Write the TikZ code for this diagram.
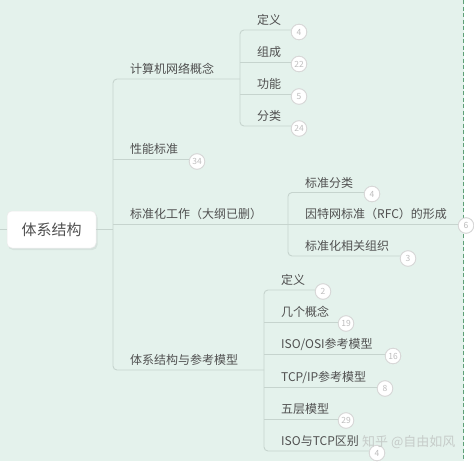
\documentclass[tikz,border=0pt]{standalone}
\usepackage{fontspec}
\setmainfont{Noto Sans CJK SC}
\usetikzlibrary{calc}
\definecolor{bgc}{RGB}{228,242,236}
\definecolor{linec}{RGB}{198,212,206}
\definecolor{txtc}{RGB}{80,80,80}
\definecolor{dashc}{RGB}{95,160,120}
\definecolor{bdgline}{RGB}{215,215,215}
\definecolor{bdgtxt}{RGB}{190,190,190}
\definecolor{wmc}{RGB}{198,204,201}
\begin{document}
\begin{tikzpicture}[x=1pt,y=-1pt,
  lbl/.style={anchor=base west, inner sep=0pt, text=txtc, font=\fontsize{12}{14}\selectfont},
  badge/.style={circle, draw=bdgline, fill=white, line width=0.8pt, minimum size=15.5pt, inner sep=0pt, text=bdgtxt, font=\fontsize{8.5}{9}\selectfont},
  conn/.style={draw=linec, line width=0.9pt, rounded corners=4pt},
  rootbox/.style={draw=white!92!black, line width=0.5pt, fill=white, rounded corners=5pt, minimum width=89pt, minimum height=37pt, inner sep=0pt, text=txtc, font=\fontsize{15}{17}\selectfont}]
\useasboundingbox (0,0) rectangle (474,461);
\fill[bgc] (0,0) rectangle (464,461);
\fill[white] (464,0) rectangle (474,461);
\draw[dashc, line width=1.3pt, dash pattern=on 4pt off 2.5pt] (463.5,0) -- (463.5,461);

% root
\fill[black, opacity=0.06, rounded corners=5pt] (8,212.5) rectangle (97.5,250);
\node[rootbox] (root) at (51.5,229.5) {体系结构};
\coordinate (in) at (0,229.5);
\coordinate (j) at (113,229.5);

% level 1 labels
\node[lbl] (a) at (130,73) {计算机网络概念};
\node[lbl] (b) at (130,153.5) {性能标准};
\node[lbl] (c) at (130,218) {标准化工作（大纲已删）};
\node[lbl] (d) at (130,364) {体系结构与参考模型};

\coordinate (aL) at (113,79);  \coordinate (aR) at (240,79);
\coordinate (bL) at (113,159.5);
\coordinate (cL) at (113,224); \coordinate (cR) at (288,224);
\coordinate (dL) at (113,370); \coordinate (dR) at (264,370);

% level 2 labels (a)
\node[lbl] (a1) at (257,24) {定义};
\node[lbl] (a2) at (257,56) {组成};
\node[lbl] (a3) at (257,88) {功能};
\node[lbl] (a4) at (257,120) {分类};
\coordinate (a1u) at (240,30);
\coordinate (a2u) at (240,62);
\coordinate (a3u) at (240,94);
\coordinate (a4u) at (240,126);

% level 2 labels (c)
\node[lbl] (c1) at (305,187) {标准分类};
\node[lbl] (c2) at (305,218) {因特网标准（RFC）的形成};
\node[lbl] (c3) at (305,250) {标准化相关组织};
\coordinate (c1u) at (288,192.5);
\coordinate (c2u) at (288,224);
\coordinate (c3u) at (288,256);

% level 2 labels (d)
\node[lbl] (d1) at (281,284) {定义};
\node[lbl] (d2) at (281,316) {几个概念};
\node[lbl] (d3) at (281,348) {ISO/OSI参考模型};
\node[lbl] (d4) at (281,381) {TCP/IP参考模型};
\node[lbl] (d5) at (281,413) {五层模型};
\node[lbl] (d6) at (281,445) {ISO与TCP区别};
\coordinate (d1u) at (264,290);
\coordinate (d2u) at (264,322);
\coordinate (d3u) at (264,354);
\coordinate (d4u) at (264,387);
\coordinate (d5u) at (264,419);
\coordinate (d6u) at (264,451);

% badges (positions)
\path
  (197,161.5) node[badge] (bb) {34}
  (299,32) node[badge] (ba1) {4}
  (299,64) node[badge] (ba2) {22}
  (299,96.5) node[badge] (ba3) {5}
  (299,128.5) node[badge] (ba4) {24}
  (372,194) node[badge] (bc1) {4}
  (466,225.5) node[badge] (bc2) {6}
  (408,258.5) node[badge] (bc3) {3}
  (323,291.5) node[badge] (bd1) {2}
  (346,323.5) node[badge] (bd2) {19}
  (393,356) node[badge] (bd3) {16}
  (385,388.5) node[badge] (bd4) {8}
  (346,420.5) node[badge] (bd5) {29}
  (377,453) node[badge] (bd6) {4};

% connectors (behind badges)
\begin{scope}[on background layer/.style={}]
\end{scope}
\draw[conn] (in) -- (root.west);
\draw[conn] (root.east) -- (j);
\draw[conn] (aR) -- (aL) -- (dL) -- (dR);
\draw[conn] (bL) -- (bb.west |- bL);
\draw[conn] (cL) -- (cR);
% a subtree
\draw[conn] (ba1.west |- a1u) -- (a1u) -- (a4u) -- (ba4.west |- a4u);
\draw[conn] (a2u) -- (ba2.west |- a2u);
\draw[conn] (a3u) -- (ba3.west |- a3u);
% c subtree
\draw[conn] (bc1.west |- c1u) -- (c1u) -- (c3u) -- (bc3.west |- c3u);
\draw[conn] (c2u) -- (bc2.west |- c2u);
% d subtree
\draw[conn] (bd1.west |- d1u) -- (d1u) -- (d6u) -- (bd6.west |- d6u);
\draw[conn] (d2u) -- (bd2.west |- d2u);
\draw[conn] (d3u) -- (bd3.west |- d3u);
\draw[conn] (d4u) -- (bd4.west |- d4u);
\draw[conn] (d5u) -- (bd5.west |- d5u);

% redraw badges on top
\foreach \n/\t in {bb/34,ba1/4,ba2/22,ba3/5,ba4/24,bc1/4,bc3/3,bd1/2,bd2/19,bd3/16,bd4/8,bd5/29,bd6/4}{
  \node[badge] at (\n.center) {\t};
}
\node[badge, fill opacity=0.85, text opacity=1] at (bc2.center) {6};

% watermark
\node[anchor=base west, inner sep=0pt, text=wmc, font=\fontsize{13}{15}\selectfont] (wm) at (362,446) {知乎 @自由如风};
\end{tikzpicture}
\end{document}
